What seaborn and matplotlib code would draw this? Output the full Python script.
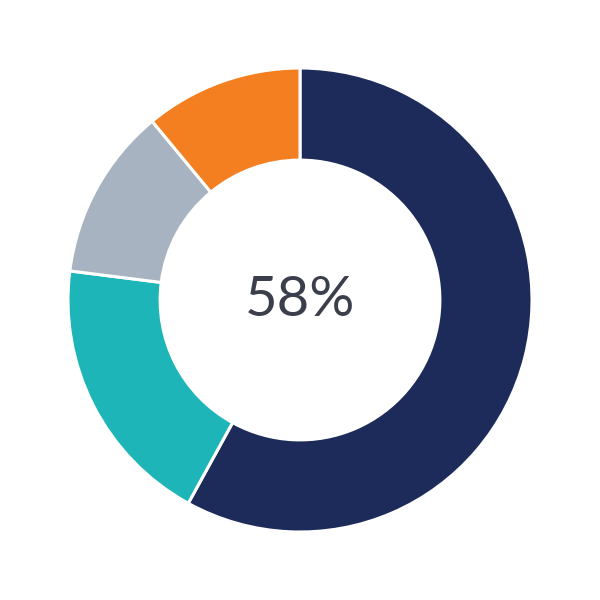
import matplotlib
matplotlib.use("Agg")
import matplotlib.pyplot as plt
import seaborn as sns

# parts of the ring, clockwise from the top
labels = ["Navy", "Teal", "Gray", "Orange"]
values = [58, 19, 12, 11]
colors = ["#1c2b5a", "#1db5b8", "#a8b3c2", "#f47f20"]
center_text = "58%"

sns.set_theme(style="white")
plt.rcParams['font.family'] = ['Lato', 'DejaVu Sans']

fig = plt.figure(figsize=(6, 6), dpi=100)
ax = fig.add_axes([0, 0, 1, 1])

palette = sns.color_palette(colors)
ax.pie(values, colors=palette, startangle=90, counterclock=False,
       radius=1.0,
       wedgeprops=dict(width=0.397, edgecolor="white", linewidth=2.2))

ax.text(0, 0, center_text, ha="center", va="center",
        fontsize=40.5, color="#3a3f4b", fontweight="normal")

lim = 300 / 232
ax.set_xlim(-lim, lim)
ax.set_ylim(-lim, lim)
ax.set_aspect("equal")
ax.axis("off")

fig.savefig("out.png", dpi=100, facecolor="white")
